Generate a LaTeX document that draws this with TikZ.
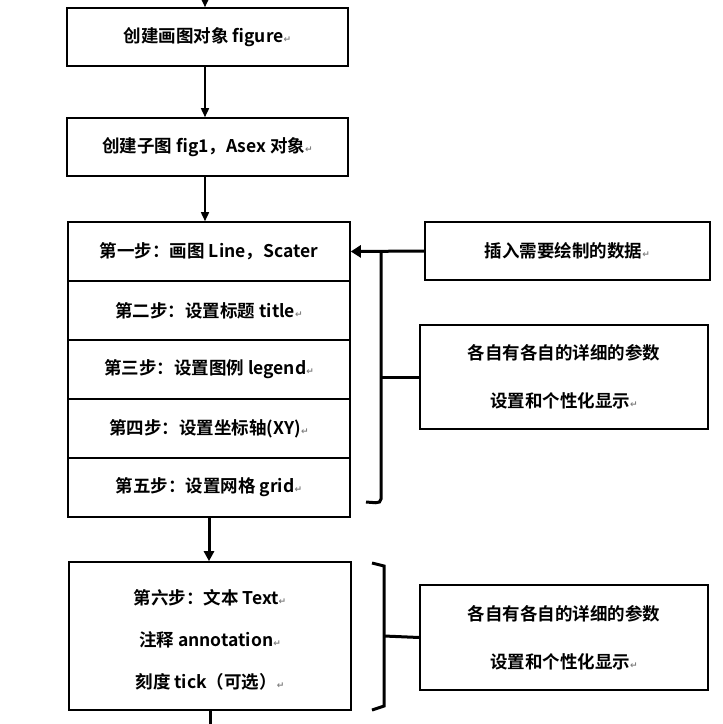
\documentclass[tikz,border=0pt]{standalone}
\usepackage{fontspec}
\setmainfont{Noto Sans CJK SC}[BoldFont={Noto Sans CJK SC Bold}]
\newfontfamily\symf{DejaVu Sans}
\usetikzlibrary{arrows.meta}
\newcommand{\pmk}{{\symf\fontsize{9}{9}\selectfont\color{gray}↵}}
\begin{document}
\begin{tikzpicture}[x=1pt,y=-1pt,
  bx/.style={draw,line width=1.6pt,inner sep=0pt},
  tx/.style={font=\fontsize{17.5}{20}\selectfont\bfseries},
  ar/.style={line width=1.6pt,-{Triangle[length=9pt,width=8pt]}},
  br/.style={line width=3pt}]
\useasboundingbox (0,0) rectangle (723,724);
\fill[white] (0,0) rectangle (723,724);
\node[bx,minimum width=281,minimum height=58] (b1) at (207.5,37) {};
\node[tx] at (b1) {创建画图对象 figure\pmk};
\node[bx,minimum width=281,minimum height=58] (b2) at (207.5,147) {};
\node[tx] at (b2) {创建子图 fig1，Asex 对象\pmk};
\foreach \i/\t in {1/{第一步：画图 Line，Scater},2/{第二步：设置标题 title\pmk},3/{第三步：设置图例 legend\pmk},4/{第四步：设置坐标轴(XY)\pmk},5/{第五步：设置网格 grid\pmk}}{
  \node[bx,minimum width=282,minimum height=59] (s\i) at (209,{222+29.5+59*(\i-1)}) {};
  \node[tx] at (s\i) {\t};
}
\node[bx,minimum width=282,minimum height=148] (b6) at (210,636) {};
\node[tx,align=center] at ([yshift=-4]b6) {第六步：文本 Text\pmk\\[22pt]注释 annotation\pmk\\[22pt]刻度 tick（可选）\pmk};
\node[bx,minimum width=285,minimum height=58] (ra) at (567.5,251) {};
\node[tx] at (ra) {插入需要绘制的数据\pmk};
\node[bx,minimum width=288,minimum height=104] (rb) at (564,377) {};
\node[tx,align=center] at (rb) {各自有各自的详细的参数\\[28pt]设置和个性化显示\pmk};
\node[bx,minimum width=288,minimum height=105] (rc) at (564,637.5) {};
\node[tx,align=center] at (rc) {各自有各自的详细的参数\\[28pt]设置和个性化显示\pmk};
\coordinate (top) at (205,0);
\coordinate (bot) at (210,724);
\draw[ar] (top) -- (b1.north -| top);
\draw[ar] (b1.south -| top) -- (b2.north -| top);
\draw[ar] (b2.south -| top) -- (s1.north -| top);
\draw[line width=3pt,-{Triangle[length=10pt,width=10pt]}] (s5.south) -- (b6.north -| s5.south);
\draw[line width=3pt] (b6.south) -- (bot);
\draw[br,-{Triangle[length=10pt,width=12pt]}] (ra.west) -- (s1.east);
\coordinate (k1) at (381,251);
\coordinate (k2) at (381,499);
\coordinate (k3) at (366,502);
\draw[br] (k1) -- (k2) to[out=-90,in=0] (k3);
\draw[br] (381,377) -- (rb.west);
\coordinate (m1) at (372,563);
\coordinate (m2) at (372,710);
\draw[br] (m1) -- (384,566) -- (384,706) -- (m2);
\draw[br] (384,636) -- (rc.west);
\end{tikzpicture}
\end{document}
